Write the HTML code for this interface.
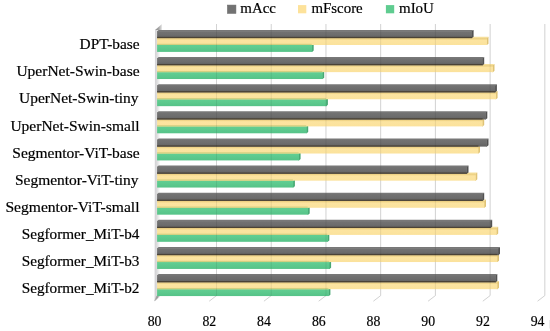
<!DOCTYPE html>
<html><head><meta charset="utf-8"><title>chart</title>
<style>html,body{margin:0;padding:0;background:#fff}svg{display:block}text{font-family:"Liberation Serif",serif;fill:#000;stroke:#000;stroke-width:0.18px}</style>
</head><body>
<svg width="550" height="331" viewBox="0 0 550 331">
<defs>
<linearGradient id="sw" x1="0" y1="0" x2="1" y2="0"><stop offset="0" stop-color="#d0d0d3"/><stop offset="0.35" stop-color="#dededf"/><stop offset="0.8" stop-color="#ffffff"/></linearGradient>
<linearGradient id="gd" x1="0" y1="0" x2="0" y2="1"><stop offset="0" stop-color="#737373"/><stop offset="0.5" stop-color="#6d6d6d"/><stop offset="1" stop-color="#616161"/></linearGradient>
<linearGradient id="gy" x1="0" y1="0" x2="0" y2="1"><stop offset="0" stop-color="#e8ca7b"/><stop offset="0.16" stop-color="#f1d68a"/><stop offset="0.32" stop-color="#fce4a0"/><stop offset="1" stop-color="#fbe29c"/></linearGradient>
<linearGradient id="gg" x1="0" y1="0" x2="0" y2="1"><stop offset="0" stop-color="#62cf93"/><stop offset="1" stop-color="#56c388"/></linearGradient>
<linearGradient id="tw" gradientUnits="userSpaceOnUse" x1="155.4" y1="0" x2="162" y2="0"><stop offset="0" stop-color="#8a8a8a"/><stop offset="0.5" stop-color="#a4a4a4"/><stop offset="1" stop-color="#e6e6e6"/></linearGradient>
<linearGradient id="bw" gradientUnits="userSpaceOnUse" x1="154.4" y1="0" x2="160.2" y2="0"><stop offset="0" stop-color="#b8b8b8"/><stop offset="0.5" stop-color="#9a9a9a"/><stop offset="1" stop-color="#e0e0e0"/></linearGradient>
</defs>
<rect width="550" height="331" fill="#fff"/>
<polygon points="155,29.8 161.8,24.2 161.8,295.8 154.6,301.2" fill="url(#sw)"/>
<polygon points="155.4,30 161.6,24.2 161.9,24.4 161.9,30" fill="url(#tw)"/>
<polygon points="156.6,295.7 160.2,295.7 154.6,301.3 154.4,300.6" fill="url(#bw)"/>
<path d="M216.52,24 L216.52,295.6 L209.22,301.2" fill="none" stroke="#e4e4e4" stroke-width="1"/>
<path d="M271.24,24 L271.24,295.6 L263.94,301.2" fill="none" stroke="#e4e4e4" stroke-width="1"/>
<path d="M325.96,24 L325.96,295.6 L318.66,301.2" fill="none" stroke="#e4e4e4" stroke-width="1"/>
<path d="M380.68,24 L380.68,295.6 L373.38,301.2" fill="none" stroke="#e4e4e4" stroke-width="1"/>
<path d="M435.40,24 L435.40,295.6 L428.10,301.2" fill="none" stroke="#e4e4e4" stroke-width="1"/>
<path d="M490.12,24 L490.12,295.6 L482.82,301.2" fill="none" stroke="#e4e4e4" stroke-width="1"/>
<path d="M544.84,24 L544.84,295.6 L537.54,301.2" fill="none" stroke="#e4e4e4" stroke-width="1"/>
<polygon points="311.60,45.00 313.70,43.70 313.70,50.60 312.10,51.90 311.60,51.90" fill="#47a873"/><polygon points="157.1,45.60 157.1,45.00 158.7,43.70 313.70,43.70 312.10,45.00 312.10,45.60" fill="#7fd6a4"/><rect x="157.1" y="45.00" width="155.00" height="6.9" fill="url(#gg)"/>
<polygon points="486.40,38.10 488.50,36.80 488.50,43.70 486.90,45.00 486.40,45.00" fill="#dfc376"/><polygon points="157.1,38.70 157.1,38.10 158.7,36.80 488.50,36.80 486.90,38.10 486.90,38.70" fill="#f6df9a"/><rect x="157.1" y="38.10" width="329.80" height="6.9" fill="url(#gy)"/>
<polygon points="471.50,31.20 473.60,29.90 473.60,36.80 472.00,38.10 471.50,38.10" fill="#525252"/><polygon points="157.1,31.80 157.1,31.20 158.7,29.90 473.60,29.90 472.00,31.20 472.00,31.80" fill="#787878"/><rect x="157.1" y="31.20" width="314.90" height="6.9" fill="url(#gd)"/>
<rect x="157.1" y="36.85" width="314.90" height="1.25" fill="#4b4336"/>
<rect x="157.1" y="43.80" width="154.60" height="1.2" fill="#d3cf80"/>
<polygon points="322.10,72.13 324.20,70.83 324.20,77.73 322.60,79.03 322.10,79.03" fill="#47a873"/><polygon points="157.1,72.73 157.1,72.13 158.7,70.83 324.20,70.83 322.60,72.13 322.60,72.73" fill="#7fd6a4"/><rect x="157.1" y="72.13" width="165.50" height="6.9" fill="url(#gg)"/>
<polygon points="492.40,65.23 494.50,63.93 494.50,70.83 492.90,72.13 492.40,72.13" fill="#dfc376"/><polygon points="157.1,65.83 157.1,65.23 158.7,63.93 494.50,63.93 492.90,65.23 492.90,65.83" fill="#f6df9a"/><rect x="157.1" y="65.23" width="335.80" height="6.9" fill="url(#gy)"/>
<polygon points="482.10,58.33 484.20,57.03 484.20,63.93 482.60,65.23 482.10,65.23" fill="#525252"/><polygon points="157.1,58.93 157.1,58.33 158.7,57.03 484.20,57.03 482.60,58.33 482.60,58.93" fill="#787878"/><rect x="157.1" y="58.33" width="325.50" height="6.9" fill="url(#gd)"/>
<rect x="157.1" y="63.98" width="325.50" height="1.25" fill="#4b4336"/>
<rect x="157.1" y="70.93" width="165.10" height="1.2" fill="#d3cf80"/>
<polygon points="325.80,99.26 327.90,97.96 327.90,104.86 326.30,106.16 325.80,106.16" fill="#47a873"/><polygon points="157.1,99.86 157.1,99.26 158.7,97.96 327.90,97.96 326.30,99.26 326.30,99.86" fill="#7fd6a4"/><rect x="157.1" y="99.26" width="169.20" height="6.9" fill="url(#gg)"/>
<polygon points="495.50,92.36 497.60,91.06 497.60,97.96 496.00,99.26 495.50,99.26" fill="#dfc376"/><polygon points="157.1,92.96 157.1,92.36 158.7,91.06 497.60,91.06 496.00,92.36 496.00,92.96" fill="#f6df9a"/><rect x="157.1" y="92.36" width="338.90" height="6.9" fill="url(#gy)"/>
<polygon points="494.80,85.46 496.90,84.16 496.90,91.06 495.30,92.36 494.80,92.36" fill="#525252"/><polygon points="157.1,86.06 157.1,85.46 158.7,84.16 496.90,84.16 495.30,85.46 495.30,86.06" fill="#787878"/><rect x="157.1" y="85.46" width="338.20" height="6.9" fill="url(#gd)"/>
<rect x="157.1" y="91.11" width="338.20" height="1.25" fill="#4b4336"/>
<rect x="157.1" y="98.06" width="168.80" height="1.2" fill="#d3cf80"/>
<polygon points="306.10,126.39 308.20,125.09 308.20,131.99 306.60,133.29 306.10,133.29" fill="#47a873"/><polygon points="157.1,126.99 157.1,126.39 158.7,125.09 308.20,125.09 306.60,126.39 306.60,126.99" fill="#7fd6a4"/><rect x="157.1" y="126.39" width="149.50" height="6.9" fill="url(#gg)"/>
<polygon points="482.10,119.49 484.20,118.19 484.20,125.09 482.60,126.39 482.10,126.39" fill="#dfc376"/><polygon points="157.1,120.09 157.1,119.49 158.7,118.19 484.20,118.19 482.60,119.49 482.60,120.09" fill="#f6df9a"/><rect x="157.1" y="119.49" width="325.50" height="6.9" fill="url(#gy)"/>
<polygon points="485.20,112.59 487.30,111.29 487.30,118.19 485.70,119.49 485.20,119.49" fill="#525252"/><polygon points="157.1,113.19 157.1,112.59 158.7,111.29 487.30,111.29 485.70,112.59 485.70,113.19" fill="#787878"/><rect x="157.1" y="112.59" width="328.60" height="6.9" fill="url(#gd)"/>
<rect x="157.1" y="118.24" width="325.50" height="1.25" fill="#4b4336"/>
<rect x="157.1" y="125.19" width="149.10" height="1.2" fill="#d3cf80"/>
<polygon points="298.50,153.52 300.60,152.22 300.60,159.12 299.00,160.42 298.50,160.42" fill="#47a873"/><polygon points="157.1,154.12 157.1,153.52 158.7,152.22 300.60,152.22 299.00,153.52 299.00,154.12" fill="#7fd6a4"/><rect x="157.1" y="153.52" width="141.90" height="6.9" fill="url(#gg)"/>
<polygon points="477.90,146.62 480.00,145.32 480.00,152.22 478.40,153.52 477.90,153.52" fill="#dfc376"/><polygon points="157.1,147.22 157.1,146.62 158.7,145.32 480.00,145.32 478.40,146.62 478.40,147.22" fill="#f6df9a"/><rect x="157.1" y="146.62" width="321.30" height="6.9" fill="url(#gy)"/>
<polygon points="486.40,139.72 488.50,138.42 488.50,145.32 486.90,146.62 486.40,146.62" fill="#525252"/><polygon points="157.1,140.32 157.1,139.72 158.7,138.42 488.50,138.42 486.90,139.72 486.90,140.32" fill="#787878"/><rect x="157.1" y="139.72" width="329.80" height="6.9" fill="url(#gd)"/>
<rect x="157.1" y="145.37" width="321.30" height="1.25" fill="#4b4336"/>
<rect x="157.1" y="152.32" width="141.50" height="1.2" fill="#d3cf80"/>
<polygon points="292.80,180.65 294.90,179.35 294.90,186.25 293.30,187.55 292.80,187.55" fill="#47a873"/><polygon points="157.1,181.25 157.1,180.65 158.7,179.35 294.90,179.35 293.30,180.65 293.30,181.25" fill="#7fd6a4"/><rect x="157.1" y="180.65" width="136.20" height="6.9" fill="url(#gg)"/>
<polygon points="475.20,173.75 477.30,172.45 477.30,179.35 475.70,180.65 475.20,180.65" fill="#dfc376"/><polygon points="157.1,174.35 157.1,173.75 158.7,172.45 477.30,172.45 475.70,173.75 475.70,174.35" fill="#f6df9a"/><rect x="157.1" y="173.75" width="318.60" height="6.9" fill="url(#gy)"/>
<polygon points="466.40,166.85 468.50,165.55 468.50,172.45 466.90,173.75 466.40,173.75" fill="#525252"/><polygon points="157.1,167.45 157.1,166.85 158.7,165.55 468.50,165.55 466.90,166.85 466.90,167.45" fill="#787878"/><rect x="157.1" y="166.85" width="309.80" height="6.9" fill="url(#gd)"/>
<rect x="157.1" y="172.50" width="309.80" height="1.25" fill="#4b4336"/>
<rect x="157.1" y="179.45" width="135.80" height="1.2" fill="#d3cf80"/>
<polygon points="307.60,207.78 309.70,206.48 309.70,213.38 308.10,214.68 307.60,214.68" fill="#47a873"/><polygon points="157.1,208.38 157.1,207.78 158.7,206.48 309.70,206.48 308.10,207.78 308.10,208.38" fill="#7fd6a4"/><rect x="157.1" y="207.78" width="151.00" height="6.9" fill="url(#gg)"/>
<polygon points="483.90,200.88 486.00,199.58 486.00,206.48 484.40,207.78 483.90,207.78" fill="#dfc376"/><polygon points="157.1,201.48 157.1,200.88 158.7,199.58 486.00,199.58 484.40,200.88 484.40,201.48" fill="#f6df9a"/><rect x="157.1" y="200.88" width="327.30" height="6.9" fill="url(#gy)"/>
<polygon points="482.10,193.98 484.20,192.68 484.20,199.58 482.60,200.88 482.10,200.88" fill="#525252"/><polygon points="157.1,194.58 157.1,193.98 158.7,192.68 484.20,192.68 482.60,193.98 482.60,194.58" fill="#787878"/><rect x="157.1" y="193.98" width="325.50" height="6.9" fill="url(#gd)"/>
<rect x="157.1" y="199.63" width="325.50" height="1.25" fill="#4b4336"/>
<rect x="157.1" y="206.58" width="150.60" height="1.2" fill="#d3cf80"/>
<polygon points="327.20,234.91 329.30,233.61 329.30,240.51 327.70,241.81 327.20,241.81" fill="#47a873"/><polygon points="157.1,235.51 157.1,234.91 158.7,233.61 329.30,233.61 327.70,234.91 327.70,235.51" fill="#7fd6a4"/><rect x="157.1" y="234.91" width="170.60" height="6.9" fill="url(#gg)"/>
<polygon points="496.10,228.01 498.20,226.71 498.20,233.61 496.60,234.91 496.10,234.91" fill="#dfc376"/><polygon points="157.1,228.61 157.1,228.01 158.7,226.71 498.20,226.71 496.60,228.01 496.60,228.61" fill="#f6df9a"/><rect x="157.1" y="228.01" width="339.50" height="6.9" fill="url(#gy)"/>
<polygon points="490.10,221.11 492.20,219.81 492.20,226.71 490.60,228.01 490.10,228.01" fill="#525252"/><polygon points="157.1,221.71 157.1,221.11 158.7,219.81 492.20,219.81 490.60,221.11 490.60,221.71" fill="#787878"/><rect x="157.1" y="221.11" width="333.50" height="6.9" fill="url(#gd)"/>
<rect x="157.1" y="226.76" width="333.50" height="1.25" fill="#4b4336"/>
<rect x="157.1" y="233.71" width="170.20" height="1.2" fill="#d3cf80"/>
<polygon points="329.00,262.04 331.10,260.74 331.10,267.64 329.50,268.94 329.00,268.94" fill="#47a873"/><polygon points="157.1,262.64 157.1,262.04 158.7,260.74 331.10,260.74 329.50,262.04 329.50,262.64" fill="#7fd6a4"/><rect x="157.1" y="262.04" width="172.40" height="6.9" fill="url(#gg)"/>
<polygon points="496.90,255.14 499.00,253.84 499.00,260.74 497.40,262.04 496.90,262.04" fill="#dfc376"/><polygon points="157.1,255.74 157.1,255.14 158.7,253.84 499.00,253.84 497.40,255.14 497.40,255.74" fill="#f6df9a"/><rect x="157.1" y="255.14" width="340.30" height="6.9" fill="url(#gy)"/>
<polygon points="497.90,248.24 500.00,246.94 500.00,253.84 498.40,255.14 497.90,255.14" fill="#525252"/><polygon points="157.1,248.84 157.1,248.24 158.7,246.94 500.00,246.94 498.40,248.24 498.40,248.84" fill="#787878"/><rect x="157.1" y="248.24" width="341.30" height="6.9" fill="url(#gd)"/>
<rect x="157.1" y="253.89" width="340.30" height="1.25" fill="#4b4336"/>
<rect x="157.1" y="260.84" width="172.00" height="1.2" fill="#d3cf80"/>
<polygon points="328.30,289.17 330.40,287.87 330.40,294.77 328.80,296.07 328.30,296.07" fill="#47a873"/><polygon points="157.1,289.77 157.1,289.17 158.7,287.87 330.40,287.87 328.80,289.17 328.80,289.77" fill="#7fd6a4"/><rect x="157.1" y="289.17" width="171.70" height="6.9" fill="url(#gg)"/>
<polygon points="496.90,282.27 499.00,280.97 499.00,287.87 497.40,289.17 496.90,289.17" fill="#dfc376"/><polygon points="157.1,282.87 157.1,282.27 158.7,280.97 499.00,280.97 497.40,282.27 497.40,282.87" fill="#f6df9a"/><rect x="157.1" y="282.27" width="340.30" height="6.9" fill="url(#gy)"/>
<polygon points="495.20,275.37 497.30,274.07 497.30,280.97 495.70,282.27 495.20,282.27" fill="#525252"/><polygon points="157.1,275.97 157.1,275.37 158.7,274.07 497.30,274.07 495.70,275.37 495.70,275.97" fill="#787878"/><rect x="157.1" y="275.37" width="338.60" height="6.9" fill="url(#gd)"/>
<rect x="157.1" y="281.02" width="338.60" height="1.25" fill="#4b4336"/>
<rect x="157.1" y="287.97" width="171.30" height="1.2" fill="#d3cf80"/>
<path d="M161.80,295.6 L154.50,301.2" fill="none" stroke="#000" stroke-opacity="0.0" stroke-width="1"/>
<path d="M216.52,24 L216.52,295.6 L209.22,301.2" fill="none" stroke="#000" stroke-opacity="0.08" stroke-width="1"/>
<path d="M271.24,24 L271.24,295.6 L263.94,301.2" fill="none" stroke="#000" stroke-opacity="0.08" stroke-width="1"/>
<path d="M325.96,24 L325.96,295.6 L318.66,301.2" fill="none" stroke="#000" stroke-opacity="0.08" stroke-width="1"/>
<path d="M380.68,24 L380.68,295.6 L373.38,301.2" fill="none" stroke="#000" stroke-opacity="0.08" stroke-width="1"/>
<path d="M435.40,24 L435.40,295.6 L428.10,301.2" fill="none" stroke="#000" stroke-opacity="0.08" stroke-width="1"/>
<path d="M490.12,24 L490.12,295.6 L482.82,301.2" fill="none" stroke="#000" stroke-opacity="0.08" stroke-width="1"/>
<path d="M544.84,24 L544.84,295.6 L537.54,301.2" fill="none" stroke="#000" stroke-opacity="0.08" stroke-width="1"/>
<text x="79.6" y="49.1" font-size="14" textLength="60.0" lengthAdjust="spacingAndGlyphs">DPT-base</text>
<text x="16.4" y="76.2" font-size="14" textLength="123.2" lengthAdjust="spacingAndGlyphs">UperNet-Swin-base</text>
<text x="19.1" y="103.4" font-size="14" textLength="119.4" lengthAdjust="spacingAndGlyphs">UperNet-Swin-tiny</text>
<text x="10.4" y="130.5" font-size="14" textLength="129.2" lengthAdjust="spacingAndGlyphs">UperNet-Swin-small</text>
<text x="12.3" y="157.6" font-size="14" textLength="127.3" lengthAdjust="spacingAndGlyphs">Segmentor-ViT-base</text>
<text x="15.0" y="184.8" font-size="14" textLength="123.5" lengthAdjust="spacingAndGlyphs">Segmentor-ViT-tiny</text>
<text x="5.4" y="211.9" font-size="14" textLength="134.1" lengthAdjust="spacingAndGlyphs">Segmentor-ViT-small</text>
<text x="21.7" y="239.0" font-size="14" textLength="117.8" lengthAdjust="spacingAndGlyphs">Segformer_MiT-b4</text>
<text x="21.7" y="266.1" font-size="14" textLength="117.8" lengthAdjust="spacingAndGlyphs">Segformer_MiT-b3</text>
<text x="21.7" y="293.3" font-size="14" textLength="117.8" lengthAdjust="spacingAndGlyphs">Segformer_MiT-b2</text>
<text x="147.7" y="326.3" font-size="14.2" textLength="13.8" lengthAdjust="spacingAndGlyphs">80</text>
<text x="202.4" y="326.3" font-size="14.2" textLength="13.8" lengthAdjust="spacingAndGlyphs">82</text>
<text x="257.1" y="326.3" font-size="14.2" textLength="13.8" lengthAdjust="spacingAndGlyphs">84</text>
<text x="311.9" y="326.3" font-size="14.2" textLength="13.8" lengthAdjust="spacingAndGlyphs">86</text>
<text x="366.6" y="326.3" font-size="14.2" textLength="13.8" lengthAdjust="spacingAndGlyphs">88</text>
<text x="421.3" y="326.3" font-size="14.2" textLength="13.8" lengthAdjust="spacingAndGlyphs">90</text>
<text x="476.0" y="326.3" font-size="14.2" textLength="13.8" lengthAdjust="spacingAndGlyphs">92</text>
<text x="530.7" y="326.3" font-size="14.2" textLength="13.8" lengthAdjust="spacingAndGlyphs">94</text>
<rect x="227.5" y="5.1" width="8.4" height="8.2" fill="#727272" stroke="#686868" stroke-width="0.6"/>
<text x="240.3" y="13.1" font-size="14" textLength="35.7" lengthAdjust="spacingAndGlyphs">mAcc</text>
<rect x="298" y="5.1" width="8.3" height="8.2" fill="#fde29a"/>
<text x="311.5" y="13.1" font-size="14" textLength="51.2" lengthAdjust="spacingAndGlyphs">mFscore</text>
<rect x="385.9" y="5.1" width="8.3" height="8.2" fill="#5fcc90"/>
<text x="399" y="13.1" font-size="14" textLength="34.9" lengthAdjust="spacingAndGlyphs">mIoU</text>
<rect x="549.2" y="320" width="0.8" height="8.5" fill="#e6e6e6"/>
</svg>
</body></html>
